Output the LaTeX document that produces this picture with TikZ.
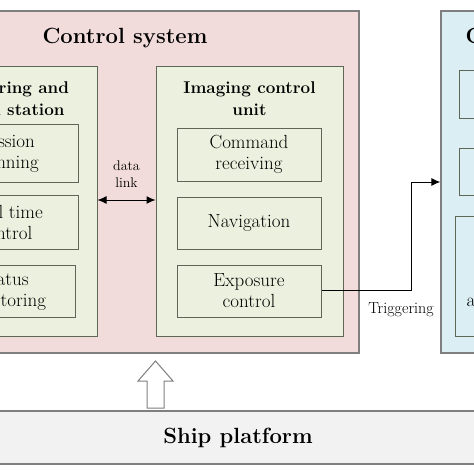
\documentclass[tikz,border=0pt]{standalone}
\usepackage{xcolor}
\usetikzlibrary{arrows.meta}

\definecolor{pinkfill}{HTML}{F2DCDB}
\definecolor{greenfill}{HTML}{EBF1DE}
\definecolor{bluefill}{HTML}{DBEEF4}
\definecolor{grayfill}{HTML}{F2F2F2}
\definecolor{frame}{HTML}{7F7F7F}
\definecolor{innerframe}{HTML}{5E6656}

\begin{document}
\begin{tikzpicture}[x=1pt,y=-1pt]
\tikzset{outerbox/.style={draw=frame,line width=1.2pt,inner sep=0pt}}
\tikzset{unitbox/.style={draw=innerframe,line width=1pt,fill=greenfill,inner sep=0pt,minimum width=187pt,minimum height=270pt}}
\tikzset{taskbox/.style={draw=innerframe,line width=1pt,fill=greenfill,inner sep=0pt,minimum width=144pt,align=center,font=\fontsize{19}{21}\selectfont}}
\tikzset{bigtitle/.style={font=\fontsize{22}{26}\selectfont\bfseries}}
\tikzset{unittitle/.style={align=center,font=\fontsize{17}{22}\selectfont\bfseries}}
\tikzset{link/.style={line width=1pt,-{Latex[length=9pt,width=8pt]}}}

\useasboundingbox (0,0) rectangle (474,474);

% control system
\node[outerbox,fill=pinkfill,minimum width=379pt,minimum height=342pt] (ctrl) at (169.5,182) {};
\node[bigtitle] (ctrltitle) at (125,38) {Control system};

% monitoring and control station
\node[unitbox] (station) at (3.5,201) {};
\node[unittitle] (stationtitle) at (3.5,99) {Monitoring and\\control station};
\node[taskbox,minimum height=58pt] (mission) at (6,153.5) {Mission\\planning};
\node[taskbox,minimum height=54pt] (realtime) at (6,222) {Real time\\control};
\node[taskbox,minimum height=52pt,minimum width=141pt] (status) at (4.5,291) {Status\\monitoring};

% imaging control unit
\node[unitbox] (imaging) at (249.5,201) {};
\node[unittitle] (imagingtitle) at (249.5,99) {Imaging control\\unit};
\node[taskbox,minimum height=53pt] (command) at (249,154.5) {Command\\receiving};
\node[taskbox,minimum height=52pt] (navigation) at (249,223) {Navigation};
\node[taskbox,minimum height=52pt] (exposure) at (249,291) {Exposure\\control};

% camera system
\node[outerbox,fill=bluefill,minimum width=240pt,minimum height=342pt] (camera) at (561,182) {};
\node[bigtitle,anchor=west] (cameratitle) at (462,38) {Camera system};
\node[taskbox,fill=bluefill,minimum height=48pt,anchor=north west] (cambox1) at (459,70) {};
\node[taskbox,fill=bluefill,minimum height=47pt,anchor=north west] (cambox2) at (459,148) {};
\node[taskbox,fill=bluefill,minimum height=120pt,anchor=north west] (cambox3) at (455,216) {};
\node[anchor=west,font=\fontsize{19}{21}\selectfont] (camtext) at (463,302) {acquisition};

% ship platform
\node[outerbox,fill=grayfill,minimum width=520pt,minimum height=53pt] (ship) at (237,437.5) {};
\node[bigtitle] (shiptitle) at (238,438) {Ship platform};

% links
\draw[link,{Latex[length=9pt,width=8pt]}-{Latex[length=9pt,width=8pt]}] (station.east |- 0,200) -- (imaging.west |- 0,200);
\node[align=center,font=\fontsize{14}{17}\selectfont] (datalink) at (126.5,174) {data\\link};
\coordinate (bend) at (411,290);
\draw[link] (exposure.east |- bend) -- (bend) -- (411,182) -- (camera.west |- 0,182);
\node[font=\fontsize{16}{18}\selectfont] (trig) at (401,310) {Triggering};

% ship carries the control system
\coordinate (lifttip) at (155.5,361);
\draw[draw=frame,line width=1pt,fill=white,line join=miter] (lifttip) -- ++(17.5,20) -- ++(-9,0) -- ++(0,27)
  -- ++(-17,0) -- ++(0,-27) -- ++(-9,0) -- cycle;

\end{tikzpicture}
\end{document}
